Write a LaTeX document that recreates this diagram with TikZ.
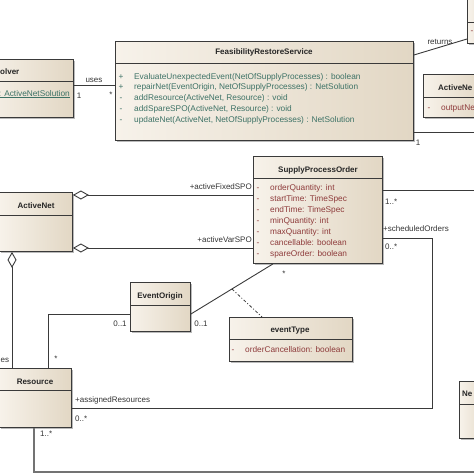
\documentclass[tikz,border=0pt]{standalone}
\usepackage{fontspec}
\setmainfont{Liberation Sans}
\usetikzlibrary{arrows.meta,shadows,calc}
\definecolor{linec}{HTML}{3A3A3A}
\definecolor{methc}{HTML}{3D7266}
\definecolor{attrc}{HTML}{8E3B3B}
\definecolor{boxl}{HTML}{F7F2EA}
\definecolor{boxr}{HTML}{E2D7C4}
\begin{document}
\begin{tikzpicture}[x=1pt,y=-1pt,
 cls/.style={draw=linec, line width=0.9pt, left color=boxl, right color=boxr, anchor=north west, inner sep=0pt,
   drop shadow={shadow xshift=1.6pt, shadow yshift=-1.6pt, opacity=0.45, fill=black!60}},
 sepl/.style={draw=linec, line width=0.8pt},
 ttl/.style={font=\fontsize{8}{9}\selectfont\bfseries, inner sep=0pt, anchor=base, text=black!85},
 meth/.style={font=\fontsize{8.3}{10}\selectfont, inner sep=0pt, anchor=base west, text=methc},
 attr/.style={font=\fontsize{8.3}{10}\selectfont, inner sep=0pt, anchor=base west, text=attrc},
 lbl/.style={font=\fontsize{8}{9}\selectfont, inner sep=0pt, text=black!80},
 conn/.style={draw=linec, line width=0.9pt},
 agg/.style={conn, -{Diamond[fill=white, length=16pt, width=9pt]}},
]
\useasboundingbox (0,0) rectangle (474,474);
\clip (0,0) rectangle (474,474);

% ---------- boxes ----------
\node[cls, minimum width=93pt, minimum height=58pt] (solver) at (-20,59) {};
\node[cls, minimum width=298pt, minimum height=99pt] (frs) at (115,41) {};
\node[cls, minimum width=30pt, minimum height=53pt] (tr) at (467,-10) {};
\node[cls, minimum width=60pt, minimum height=43pt] (ans) at (423,74) {};
\node[cls, minimum width=73pt, minimum height=59pt] (anet) at (-1,192) {};
\node[cls, minimum width=129pt, minimum height=107pt] (spo) at (253,156) {};
\node[cls, minimum width=60pt, minimum height=49pt] (eo) at (130,282) {};
\node[cls, minimum width=123pt, minimum height=44pt] (et) at (229,317) {};
\node[cls, minimum width=72pt, minimum height=59pt] (res) at (-1,368) {};
\node[cls, minimum width=30pt, minimum height=57pt] (ne) at (459,381) {};

% ---------- separators ----------
\draw[sepl] (solver.west |- 0,81) -- (solver.east |- 0,81);
\draw[sepl] (frs.west |- 0,63) -- (frs.east |- 0,63);
\draw[sepl] (tr.west |- 0,22) -- (tr.east |- 0,22);
\draw[sepl] (ans.west |- 0,97) -- (ans.east |- 0,97);
\draw[sepl] (anet.west |- 0,215) -- (anet.east |- 0,215);
\draw[sepl] (spo.west |- 0,178) -- (spo.east |- 0,178);
\draw[sepl] (eo.west |- 0,305) -- (eo.east |- 0,305);
\draw[sepl] (et.west |- 0,339) -- (et.east |- 0,339);
\draw[sepl] (res.west |- 0,390) -- (res.east |- 0,390);
\draw[sepl] (ne.west |- 0,404) -- (ne.east |- 0,404);

% ---------- titles ----------
\node[ttl, anchor=base west] (tsolver) at (0,74) {olver};
\node[ttl] (tfrs) at (264,54.5) {FeasibilityRestoreService};
\node[ttl, anchor=base west] (tans) at (438,90) {ActiveNe};
\node[ttl] (tanet) at (36,208) {ActiveNet};
\node[ttl] (tspo) at (318,172) {SupplyProcessOrder};
\node[ttl] (teo) at (160,298) {EventOrigin};
\node[ttl] (tet) at (290,332) {eventType};
\node[ttl] (tres) at (35,384) {Resource};
\node[ttl, anchor=base west] (tne) at (462,396) {Ne};

% ---------- members ----------
\node[meth, anchor=base east] (msolver) at (70,96) {\underline{: ActiveNetSolution}};

\foreach \v/\t [count=\i from 0] in {+/{EvaluateUnexpectedEvent(NetOfSupplyProcesses) : boolean},
  +/{repairNet(EventOrigin, NetOfSupplyProcesses) : NetSolution},
  -/{addResource(ActiveNet, Resource) : void},
  -/{addSpareSPO(ActiveNet, Resource) : void},
  -/{updateNet(ActiveNet, NetOfSupplyProcesses) : NetSolution}}{
  \node[meth, anchor=base] (fv\i) at (121,79+10.9*\i) {\v};
  \node[meth] (fm\i) at (134,79+10.9*\i) {\t};
}

\foreach \t [count=\i from 0] in {{orderQuantity: int},{startTime: TimeSpec},{endTime: TimeSpec},
  {minQuantity: int},{maxQuantity: int},{cancellable: boolean},{spareOrder: boolean}}{
  \node[attr, anchor=base] (sv\i) at (258,190+11*\i) {-};
  \node[attr] (sa\i) at (270,190+11*\i) {\t};
}

\node[attr, anchor=base] (trv) at (472,33) {-};
\node[attr, anchor=base] (ansv) at (429,110) {-};
\node[attr] (ansa) at (441,110) {outputNe};
\node[attr, anchor=base] (etv) at (233,352) {-};
\node[attr] (eta) at (245,352) {orderCancellation: boolean};

% ---------- connectors ----------
\draw[conn] (solver.east |- 0,85) -- (frs.west |- 0,85);
\node[lbl, anchor=base] (luses) at (94,82) {uses};
\node[lbl, anchor=base] (luses1) at (79,98) {1};
\node[lbl, anchor=base] (lusesS) at (111,97) {*};

\draw[conn] (frs.east |- 0,55) -- (tr.west |- 0,39);
\node[lbl, anchor=base] (lret) at (440,44) {returns};

\coordinate (rA) at (480,132);
\draw[conn] (frs.east |- 0,132) -- (rA);
\node[lbl, anchor=base] (lfrs1) at (418,145) {1};

\draw[agg] (spo.west |- 0,195) -- (anet.east |- 0,195);
\node[lbl, anchor=base east] (lfix) at (252,189) {+activeFixedSPO};
\draw[agg] (spo.west |- 0,248) -- (anet.east |- 0,248);
\node[lbl, anchor=base east] (lvar) at (252,242) {+activeVarSPO};

\draw[agg] (res.north -| 12,0) -- (anet.south -| 12,0);
\node[lbl, anchor=base west] (les) at (0.5,362) {es};

\draw[conn] (res.north -| 48,0) -- (48,314) -- (eo.west |- 0,314);
\node[lbl, anchor=base] (lresS) at (56,361) {*};
\node[lbl, anchor=base] (leo1) at (120,326) {0..1};

\coordinate (eoE) at (eo.east |- 0,314);
\coordinate (spoS) at (spo.south -| 273,0);
\draw[conn] (eoE) -- (spoS);
\node[lbl, anchor=base] (leo2) at (201,326) {0..1};
\node[lbl, anchor=base] (lspoS) at (284,276) {*};
\draw[conn, line width=0.8pt, dash pattern=on 3pt off 2pt on 1pt off 2pt] ($(eoE)!0.5!(spoS)$) -- (et.north -| 262,0);

\coordinate (rB) at (480,190);
\draw[conn] (spo.east |- 0,190) -- (rB);
\node[lbl, anchor=base west] (lspo1) at (385,204) {1..*};

\draw[conn] (spo.east |- 0,238) -- (432,238) -- (432,408) -- (res.east |- 0,408);
\node[lbl, anchor=base west] (lsched) at (383,231) {+scheduledOrders};
\node[lbl, anchor=base west] (lsched0) at (385,249) {0..*};
\node[lbl, anchor=base west] (lassign) at (75,402) {+assignedResources};
\node[lbl, anchor=base west] (lassign0) at (75,421) {0..*};

\coordinate (rC) at (480,472);
\draw[conn, draw=black!55, line width=1.2pt] (res.south -| 34,0) -- (34,472) -- (rC);
\node[lbl, anchor=base west] (lres1) at (40,436) {1..*};
\end{tikzpicture}
\end{document}
